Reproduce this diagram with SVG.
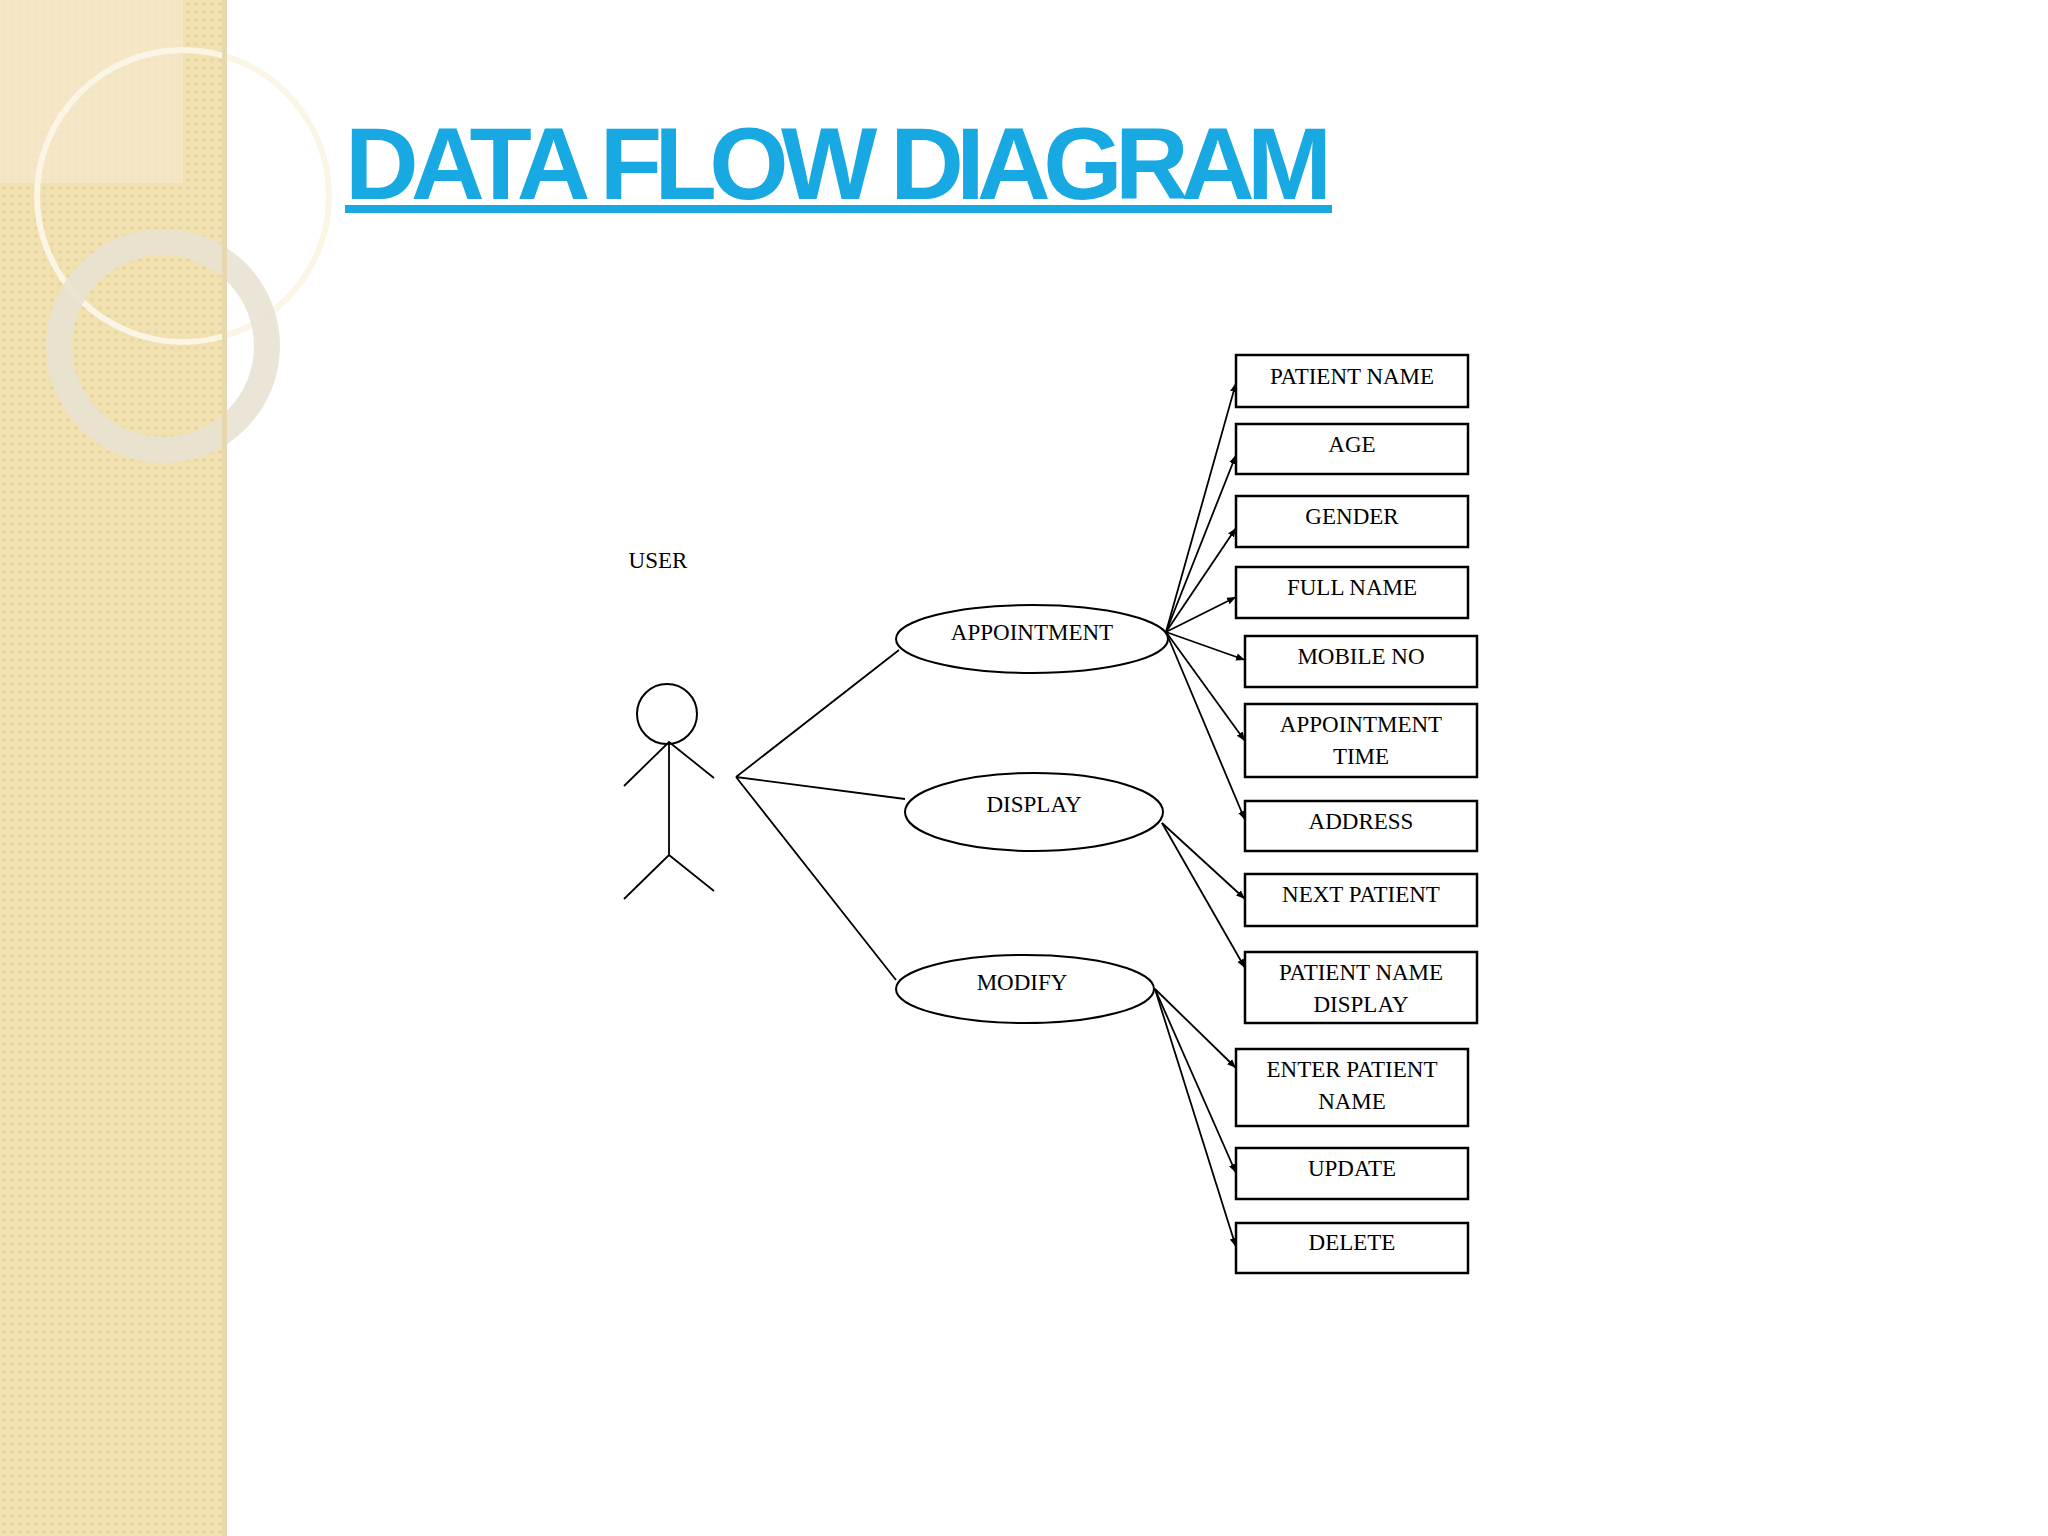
<svg xmlns="http://www.w3.org/2000/svg" width="2048" height="1536" viewBox="0 0 2048 1536">
<defs>
<pattern id="dots" width="8" height="8" patternUnits="userSpaceOnUse"><rect width="8" height="8" fill="#f1e0b0"/><circle cx="4" cy="4" r="1.6" fill="#e6d29c"/></pattern>
<marker id="ah" viewBox="0 0 10 10" refX="10" refY="5" markerWidth="9" markerHeight="9" orient="auto" markerUnits="userSpaceOnUse"><path d="M0,1 L10,5 L0,9 z" fill="#000"/></marker>
<style>
.bx{fill:#fff;stroke:#000;stroke-width:2.5}
.el{fill:#fff;stroke:#000;stroke-width:2}
.t{font-family:"Liberation Serif",serif;font-size:23px;fill:#000;text-anchor:middle}
.ln{stroke:#000;stroke-width:1.8;fill:none}
.ar{stroke:#000;stroke-width:1.8;fill:none;marker-end:url(#ah)}
</style>
</defs>
<rect width="2048" height="1536" fill="#fff"/>
<g id="sidebar">
<rect width="227" height="1536" fill="url(#dots)"/>
<rect width="183" height="183" fill="#f6ead0" opacity="0.7"/>
<circle cx="183" cy="196" r="146" fill="none" stroke="#fbf5e6" stroke-width="6"/>
<circle cx="163" cy="346" r="104" fill="none" stroke="#e8e2d2" stroke-width="26" opacity="0.9"/>
<rect x="222" width="5" height="1536" fill="#e6d7ae"/>
</g>
<g id="title">
<text x="345" y="199" font-family="Liberation Sans,Arial,sans-serif" font-weight="bold" font-size="102" fill="#18a8e2" textLength="987">DATA FLOW DIAGRAM</text>
<rect x="345" y="205" width="987" height="8" fill="#18a8e2"/>
</g>
<g id="user">
<text class="t" x="658" y="568">USER</text>
<circle cx="667" cy="714" r="30" fill="#fff" stroke="#000" stroke-width="2"/>
<path class="ln" d="M669,744 V855 M624,786 L669,742 L714,778 M624,899 L669,855 L714,891"/>
</g>
<g id="connectors">
<path class="ln" d="M736,777 L899,650 M736,777 L905,799 M736,777 L896,980"/>
<path class="ar" d="M1166,632 L1236,383"/>
<path class="ar" d="M1166,632 L1236,455"/>
<path class="ar" d="M1166,632 L1236,528"/>
<path class="ar" d="M1166,632 L1236,597"/>
<path class="ar" d="M1166,632 L1245,660"/>
<path class="ar" d="M1166,632 L1245,741"/>
<path class="ar" d="M1166,632 L1245,820"/>
<path class="ar" d="M1162,823 L1245,899"/>
<path class="ar" d="M1162,823 L1245,968"/>
<path class="ar" d="M1155,989 L1236,1068"/>
<path class="ar" d="M1155,989 L1236,1173"/>
<path class="ar" d="M1155,989 L1236,1247"/>
</g>
<g id="appointment"><ellipse class="el" cx="1032" cy="639" rx="136" ry="34"/><text class="t" x="1032" y="640">APPOINTMENT</text></g>
<g id="display"><ellipse class="el" cx="1034" cy="812" rx="129" ry="39"/><text class="t" x="1034" y="812">DISPLAY</text></g>
<g id="modify"><ellipse class="el" cx="1025" cy="989" rx="129" ry="34"/><text class="t" x="1022" y="990">MODIFY</text></g>
<g id="b1"><rect class="bx" x="1236" y="355" width="232" height="52"/><text class="t" x="1352" y="384">PATIENT NAME</text></g>
<g id="b2"><rect class="bx" x="1236" y="424" width="232" height="50"/><text class="t" x="1352" y="452">AGE</text></g>
<g id="b3"><rect class="bx" x="1236" y="496" width="232" height="51"/><text class="t" x="1352" y="524">GENDER</text></g>
<g id="b4"><rect class="bx" x="1236" y="567" width="232" height="51"/><text class="t" x="1352" y="595">FULL NAME</text></g>
<g id="b5"><rect class="bx" x="1245" y="636" width="232" height="51"/><text class="t" x="1361" y="664">MOBILE NO</text></g>
<g id="b6"><rect class="bx" x="1245" y="704" width="232" height="73"/><text class="t" x="1361" y="732">APPOINTMENT</text><text class="t" x="1361" y="764">TIME</text></g>
<g id="b7"><rect class="bx" x="1245" y="801" width="232" height="50"/><text class="t" x="1361" y="829">ADDRESS</text></g>
<g id="b8"><rect class="bx" x="1245" y="874" width="232" height="52"/><text class="t" x="1361" y="902">NEXT PATIENT</text></g>
<g id="b9"><rect class="bx" x="1245" y="952" width="232" height="71"/><text class="t" x="1361" y="980">PATIENT NAME</text><text class="t" x="1361" y="1012">DISPLAY</text></g>
<g id="b10"><rect class="bx" x="1236" y="1049" width="232" height="77"/><text class="t" x="1352" y="1077">ENTER PATIENT</text><text class="t" x="1352" y="1109">NAME</text></g>
<g id="b11"><rect class="bx" x="1236" y="1148" width="232" height="51"/><text class="t" x="1352" y="1176">UPDATE</text></g>
<g id="b12"><rect class="bx" x="1236" y="1223" width="232" height="50"/><text class="t" x="1352" y="1250">DELETE</text></g>
</svg>
